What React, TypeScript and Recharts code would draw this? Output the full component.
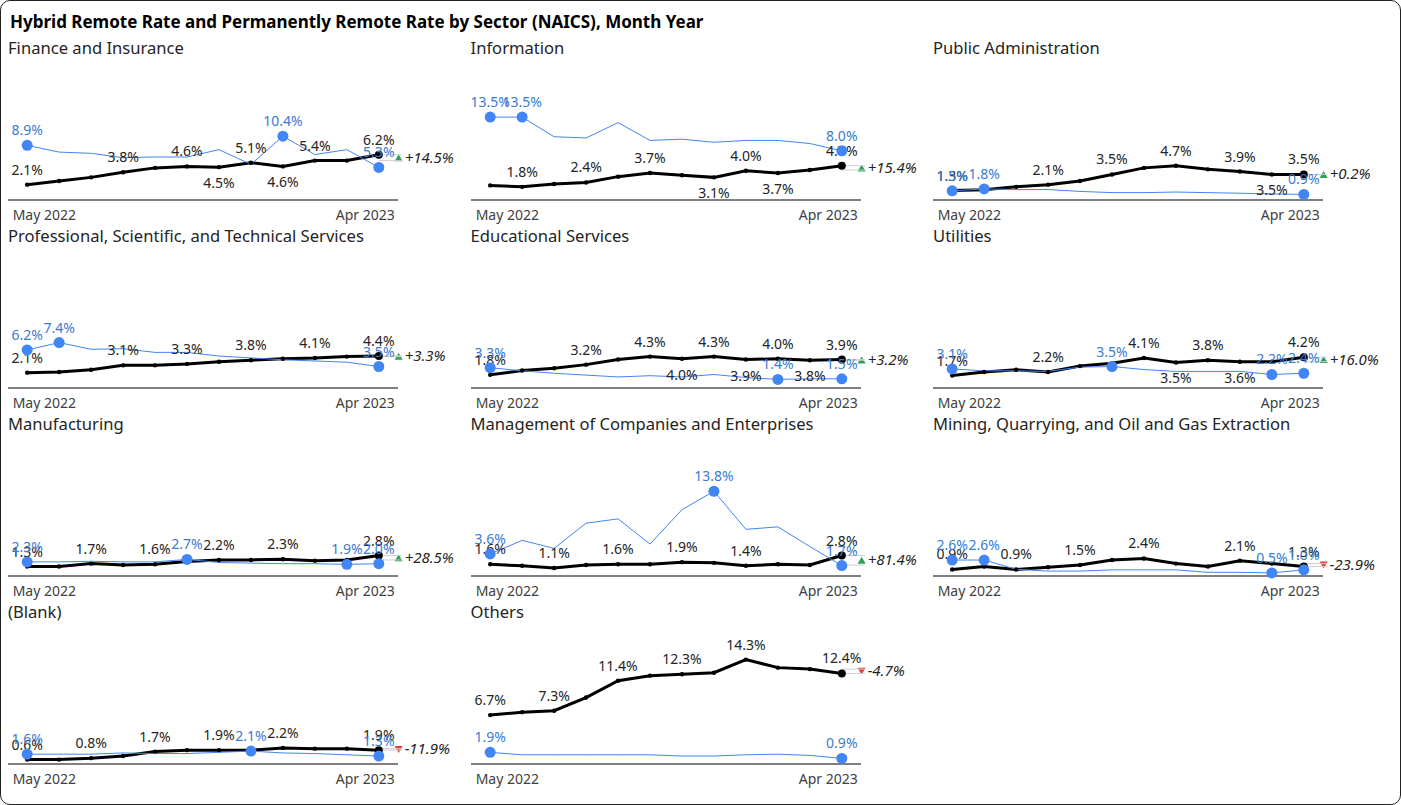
import React from 'react';
import { ComposedChart, Line, XAxis, YAxis, ReferenceLine, ReferenceArea } from 'recharts';

const FONT = '"Segoe UI", "Noto Sans", "Open Sans", sans-serif';
const TEXT = '#252423';
const BLUE = '#4285f4';
const BLUE_TEXT = '#3a7bd0';

const MONTHS = ['May 2022', 'Jun 2022', 'Jul 2022', 'Aug 2022', 'Sep 2022', 'Oct 2022', 'Nov 2022', 'Dec 2022', 'Jan 2023', 'Feb 2023', 'Mar 2023', 'Apr 2023'];

// hybrid remote rate (black) and permanently remote rate (blue), in %
const financeHybrid = [2.1, 2.6, 3.1, 3.8, 4.4, 4.6, 4.5, 5.1, 4.6, 5.4, 5.4, 6.2];
const financePermanent = [8.9, 7.8, 7.6, 6.9, 7.0, 7.0, 8.2, 5.8, 10.4, 7.4, 8.2, 5.3];
const informationHybrid = [2.0, 1.8, 2.2, 2.4, 3.2, 3.7, 3.4, 3.1, 4.0, 3.7, 4.1, 4.7];
const informationPermanent = [13.5, 13.5, 10.3, 10.1, 12.6, 9.7, 9.9, 9.4, 9.7, 9.7, 9.2, 8.0];
const publicAdminHybrid = [1.3, 1.4, 1.8, 2.1, 2.6, 3.5, 4.4, 4.7, 4.2, 3.9, 3.5, 3.5];
const publicAdminPermanent = [1.5, 1.8, 1.7, 1.7, 1.4, 1.2, 1.2, 1.3, 1.2, 1.1, 1.0, 0.9];
const professionalHybrid = [2.1, 2.2, 2.5, 3.1, 3.1, 3.3, 3.6, 3.8, 4.0, 4.1, 4.3, 4.4];
const professionalPermanent = [6.2, 7.4, 6.3, 6.4, 5.8, 5.8, 5.2, 4.9, 4.6, 4.4, 4.2, 3.5];
const educationHybrid = [1.8, 2.4, 2.7, 3.2, 3.9, 4.3, 4.0, 4.3, 3.9, 4.0, 3.8, 3.9];
const educationPermanent = [3.3, 2.8, 2.4, 2.1, 1.8, 2.0, 1.8, 2.2, 1.7, 1.4, 1.5, 1.5];
const utilitiesHybrid = [1.7, 2.2, 2.5, 2.2, 3.0, 3.4, 4.1, 3.5, 3.8, 3.6, 3.6, 4.2];
const utilitiesPermanent = [3.1, 2.8, 2.8, 2.7, 3.4, 3.5, 3.0, 2.7, 2.7, 2.7, 2.2, 2.4];
const manufacturingHybrid = [1.3, 1.3, 1.7, 1.5, 1.6, 2.0, 2.2, 2.2, 2.3, 2.1, 2.2, 2.8];
const manufacturingPermanent = [2.3, 2.3, 2.4, 2.3, 2.3, 2.7, 2.2, 2.1, 2.0, 2.0, 1.9, 2.0];
const managementHybrid = [1.6, 1.4, 1.1, 1.5, 1.6, 1.6, 1.9, 1.8, 1.4, 1.6, 1.5, 2.8];
const managementPermanent = [3.6, 5.8, 4.5, 8.6, 9.3, 5.2, 10.8, 13.8, 7.6, 8.0, 4.8, 1.7];
const miningHybrid = [0.9, 1.3, 0.9, 1.2, 1.5, 2.2, 2.4, 1.7, 1.3, 2.1, 1.7, 1.3];
const miningPermanent = [2.6, 2.6, 1.1, 0.8, 0.8, 1.0, 1.0, 1.0, 0.6, 0.6, 0.5, 1.0];
const blankHybrid = [0.6, 0.6, 0.8, 1.1, 1.7, 1.9, 1.9, 1.9, 2.2, 2.1, 2.1, 1.9];
const blankPermanent = [1.6, 1.6, 1.6, 1.8, 1.7, 1.7, 1.9, 2.1, 1.8, 1.7, 1.5, 1.3];
const othersHybrid = [6.7, 7.1, 7.3, 9.1, 11.4, 12.1, 12.3, 12.5, 14.3, 13.2, 13.0, 12.4];
const othersPermanent = [1.9, 1.5, 1.5, 1.5, 1.5, 1.5, 1.3, 1.3, 1.5, 1.6, 1.4, 0.9];

// month-over-month change of the hybrid rate, last month
const VARIANCE = [14.5, 15.4, 0.2, 3.3, 3.2, 16.0, 28.5, 81.4, -23.9, -11.9, -4.7];

const PANELS = [
  { name: 'Finance and Insurance', hybrid: financeHybrid, permanent: financePermanent, above: [0, 3, 5, 7, 9, 11], below: [6, 8] },
  { name: 'Information', hybrid: informationHybrid, permanent: informationPermanent, above: [1, 3, 5, 8, 11], below: [7, 9] },
  { name: 'Public Administration', hybrid: publicAdminHybrid, permanent: publicAdminPermanent, above: [0, 3, 5, 7, 9, 11], below: [10] },
  { name: 'Professional, Scientific, and Technical Services', hybrid: professionalHybrid, permanent: professionalPermanent, above: [0, 3, 5, 7, 9, 11], below: [] },
  { name: 'Educational Services', hybrid: educationHybrid, permanent: educationPermanent, above: [0, 3, 5, 7, 9, 11], below: [6, 8, 10] },
  { name: 'Utilities', hybrid: utilitiesHybrid, permanent: utilitiesPermanent, above: [0, 3, 6, 8, 11], below: [7, 9] },
  { name: 'Manufacturing', hybrid: manufacturingHybrid, permanent: manufacturingPermanent, above: [0, 2, 4, 6, 8, 11], below: [] },
  { name: 'Management of Companies and Enterprises', hybrid: managementHybrid, permanent: managementPermanent, above: [0, 2, 4, 6, 8, 11], below: [] },
  { name: 'Mining, Quarrying, and Oil and Gas Extraction', hybrid: miningHybrid, permanent: miningPermanent, above: [0, 2, 4, 6, 9, 11], below: [] },
  { name: '(Blank)', hybrid: blankHybrid, permanent: blankPermanent, above: [0, 2, 4, 6, 8, 11], below: [] },
  { name: 'Others', hybrid: othersHybrid, permanent: othersPermanent, above: [0, 2, 4, 6, 8, 11], below: [] },
];

const HYBRID_MAX = 14.3;
const PERMANENT_MAX = 17.0;
const LAST = MONTHS.length - 1;

const pct = (v: number) => v.toFixed(1) + '%';

function MonthTick(props: any) {
  const { x, y, payload, index } = props;
  const first = index === 0;
  return (
    <text x={first ? x - 14.5 : x + 16} y={y} dy={12} textAnchor={first ? 'start' : 'end'}
      fontSize={14} fill="#404040" fontFamily={FONT}>
      {MONTHS[payload.value]}
    </text>
  );
}

function makeHybridDot(above: number[], below: number[]) {
  return (props: any) => {
    const { cx, cy, index, payload } = props;
    if (cx == null || cy == null) return <g key={index} />;
    const last = index === LAST;
    let label = null;
    if (above.includes(index)) {
      label = <text x={cx} y={cy - 10} textAnchor="middle" fontSize={14} fill={TEXT} fontFamily={FONT}>{pct(payload.h)}</text>;
    } else if (below.includes(index)) {
      label = <text x={cx} y={cy + 21} textAnchor="middle" fontSize={14} fill={TEXT} fontFamily={FONT}>{pct(payload.h)}</text>;
    }
    return (
      <g key={index}>
        <circle cx={cx} cy={cy} r={last ? 4 : 2.2} fill="#000" />
        {label}
      </g>
    );
  };
}

function makePermanentDot(values: number[]) {
  const max = Math.max(...values);
  const min = Math.min(...values);
  return (props: any) => {
    const { cx, cy, index, payload } = props;
    if (cx == null || cy == null) return <g key={index} />;
    const v = payload.p;
    const show = index === 0 || index === LAST || v === max || v === min;
    if (!show) return <g key={index} />;
    return (
      <g key={index}>
        <circle cx={cx} cy={cy} r={5.5} fill={BLUE} />
        <text x={cx} y={cy - 10} textAnchor="middle" fontSize={14} fill={BLUE_TEXT} fontFamily={FONT}>{pct(v)}</text>
      </g>
    );
  };
}

function makeVarianceShape(variance: number) {
  return (props: any) => {
    const { x, y, width, height } = props;
    const up = variance >= 0;
    const cx = x + width / 2;
    const mid = y + height / 2;
    const color = up ? '#2ca05a' : '#e0403a';
    let mark;
    if (height < 10) {
      const pts = up
        ? `${cx - 4},${mid + 3.5} ${cx + 4},${mid + 3.5} ${cx},${mid - 3.5}`
        : `${cx - 4},${mid - 3.5} ${cx + 4},${mid - 3.5} ${cx},${mid + 3.5}`;
      mark = <polygon points={pts} fill={color} />;
    } else {
      const tip = up ? y : y + height;
      const base = up ? y + 6 : y + height - 6;
      const tail = up ? y + height : y;
      mark = (
        <g>
          <polygon points={`${cx - 4.5},${base} ${cx + 4.5},${base} ${cx},${tip}`} fill={color} />
          <line x1={cx} x2={cx} y1={base} y2={tail} stroke={color} strokeWidth={3} />
        </g>
      );
    }
    const sign = variance > 0 ? '+' : '';
    return (
      <g>
        {mark}
        <text x={cx + 6} y={mid} dy={5} fontSize={15} fontStyle="italic" fill={TEXT} fontFamily={FONT}>
          {sign + variance.toFixed(1) + '%'}
        </text>
      </g>
    );
  };
}

function SectorChart({ panel, variance }: { panel: typeof PANELS[number]; variance: number }) {
  const rows = MONTHS.map((m, i) => ({ i, month: m, h: panel.hybrid[i], p: panel.permanent[i] }));
  const last = panel.hybrid[LAST];
  const prev = panel.hybrid[LAST - 1];
  return (
    <ComposedChart width={462} height={166} data={rows} margin={{ top: 37.6, right: 72, bottom: 0, left: 0 }}>
      <XAxis type="number" dataKey="i" domain={[-0.6, 11.6]} ticks={[0, LAST]} interval={0}
        height={24} tickLine={false} axisLine={{ stroke: '#808080', strokeWidth: 2 }} tick={<MonthTick />} />
      <YAxis yAxisId="h" hide domain={[0, HYBRID_MAX]} />
      <YAxis yAxisId="p" hide domain={[0, PERMANENT_MAX]} />
      <ReferenceLine yAxisId="h" ifOverflow="visible" stroke="#cfcfcf" strokeWidth={1}
        segment={[{ x: LAST, y: last }, { x: 11.72, y: last }]} />
      <ReferenceLine yAxisId="h" ifOverflow="visible" stroke="#cfcfcf" strokeWidth={1}
        segment={[{ x: LAST, y: prev }, { x: 11.72, y: prev }]} />
      <Line yAxisId="h" type="linear" dataKey="h" stroke="#000" strokeWidth={3}
        dot={makeHybridDot(panel.above, panel.below)} activeDot={false} isAnimationActive={false} />
      <Line yAxisId="p" type="linear" dataKey="p" stroke={BLUE} strokeWidth={1}
        dot={makePermanentDot(panel.permanent)} activeDot={false} isAnimationActive={false} />
      <ReferenceArea yAxisId="h" ifOverflow="visible" x1={11.52} x2={11.72} y1={prev} y2={last}
        shape={makeVarianceShape(variance)} />
    </ComposedChart>
  );
}

export default function App() {
  return (
    <div style={{ position: 'relative', width: 1401, height: 805, boxSizing: 'border-box', border: '1px solid #222', borderRadius: 10, background: '#fff', fontFamily: FONT, overflow: 'hidden' }}>
      <style>{'body{margin:0}'}</style>
      <div style={{ position: 'absolute', left: 9, top: 10, fontSize: 17, fontWeight: 700, color: '#000', lineHeight: '22px', whiteSpace: 'nowrap' }}>
        Hybrid Remote Rate and Permanently Remote Rate by Sector (NAICS), Month Year
      </div>
      {PANELS.map((panel, k) => {
        const col = k % 3;
        const row = Math.floor(k / 3);
        const left = 8 + col * 462.5 - 1;
        const top = 38 + row * 188 - 1;
        return (
          <div key={panel.name} style={{ position: 'absolute', left, top, width: 462, height: 186 }}>
            <div style={{ height: 20, lineHeight: '20px', fontSize: 16.6, color: TEXT, whiteSpace: 'nowrap' }}>{panel.name}</div>
            <SectorChart panel={panel} variance={VARIANCE[k]} />
          </div>
        );
      })}
    </div>
  );
}
